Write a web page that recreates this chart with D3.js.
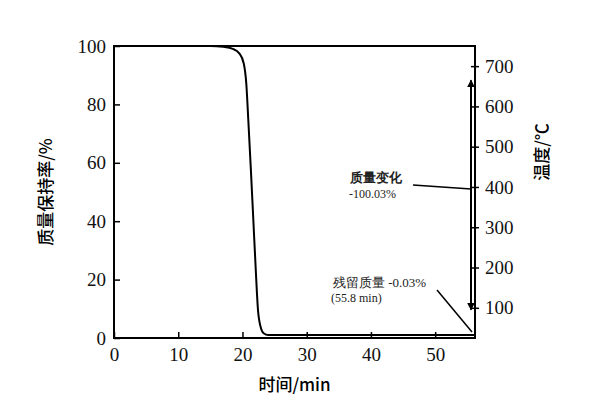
<!DOCTYPE html>
<html><head><meta charset="utf-8">
<script src="https://cdn.jsdelivr.net/npm/d3@7"></script>
<style>body{margin:0;background:#fff}</style>
</head><body><svg></svg>
<script>
const massCurve = [[0,100],[15,100],[17,99.7],[18.5,99],[19.5,97.5],[20.2,94],[20.6,87],[20.9,75],[21.3,58],[21.7,40],[22.1,22],[22.4,10],[22.8,4],[23.3,1.6],[24,1],[56.2,1]];
const xTicks = [0,10,20,30,40,50];
const yTicks = [0,20,40,60,80,100];
const tTicks = [100,200,300,400,500,600,700];

const svg = d3.select('svg').attr('width',600).attr('height',413);
const L=114, R=475, T=46, B=338;
const x = d3.scaleLinear().domain([0,56.2]).range([L,R]);
const y = d3.scaleLinear().domain([0,100]).range([B,T]);
const yt = d3.scaleLinear().domain([25,750]).range([B,T]);
const cjk = '"Noto Sans CJK SC", sans-serif';
const serif = '"Liberation Serif", "DejaVu Serif", "Times New Roman", serif';

svg.append('rect').attr('x',L).attr('y',T).attr('width',R-L).attr('height',B-T)
   .attr('fill','none').attr('stroke','#000').attr('stroke-width',2);

const styleAxis = g => {
  g.select('.domain').remove();
  g.selectAll('line').attr('stroke','#000').attr('stroke-width',1.5);
  g.selectAll('text').style('font-family',serif).style('font-size','19px').attr('fill','#111');
};
svg.append('g').attr('transform',`translate(0,${B})`)
   .call(d3.axisBottom(x).tickValues(xTicks).tickSizeInner(-6).tickPadding(10)).call(styleAxis);
svg.append('g').attr('transform',`translate(${L},0)`)
   .call(d3.axisLeft(y).tickValues(yTicks).tickSizeInner(-6).tickPadding(8)).call(styleAxis);
svg.append('g').attr('transform',`translate(${R-4},0)`)
   .call(d3.axisRight(yt).tickValues(tTicks).tickSizeInner(8).tickPadding(6)).call(styleAxis);

svg.append('path').datum(massCurve)
   .attr('d',d3.line().x(d=>x(d[0])).y(d=>y(d[1])).curve(d3.curveMonotoneX))
   .attr('fill','none').attr('stroke','#000').attr('stroke-width',2);

// double arrow
const defs = svg.append('defs');
defs.append('marker').attr('id','ah').attr('viewBox','0 0 10 10').attr('refX',9).attr('refY',5)
  .attr('markerWidth',4).attr('markerHeight',6).attr('orient','auto-start-reverse')
  .append('path').attr('d','M0,0L10,5L0,10z').attr('fill','#000');
svg.append('line').attr('x1',471).attr('x2',471).attr('y1',yt(665)).attr('y2',yt(95))
   .attr('stroke','#000').attr('stroke-width',2)
   .attr('marker-start','url(#ah)').attr('marker-end','url(#ah)');

svg.append('line').attr('x1',413).attr('y1',185).attr('x2',471).attr('y2',yt(395)).attr('stroke','#000').attr('stroke-width',1.5);
svg.append('line').attr('x1',437).attr('y1',290).attr('x2',472).attr('y2',y(1)-3).attr('stroke','#000').attr('stroke-width',1.5);

const note = (tx,ty,s,sz)=>svg.append('text').attr('x',tx).attr('y',ty).text(s)
  .style('font-family',serif).style('font-size',sz+'px').attr('fill','#222');
note(350,182,'质量变化',13).attr('font-weight','bold');
note(349,198,'-100.03%',12);
note(333,287,'残留质量 -0.03%',13);
note(331,302,'(55.8 min)',12);

svg.append('text').attr('x',(L+R)/2).attr('y',391).attr('text-anchor','middle')
   .attr('font-family',cjk).attr('font-size',17).attr('font-weight',500).text('时间/min');
svg.append('text').attr('transform','translate(52,192) rotate(-90)').attr('text-anchor','middle')
   .attr('font-family',cjk).attr('font-size',17).attr('font-weight',500).text('质量保持率/%');
svg.append('text').attr('transform','translate(548,152) rotate(-90)').attr('text-anchor','middle')
   .attr('font-family',cjk).attr('font-size',17).attr('font-weight',500).text('温度/℃');
</script></body></html>
